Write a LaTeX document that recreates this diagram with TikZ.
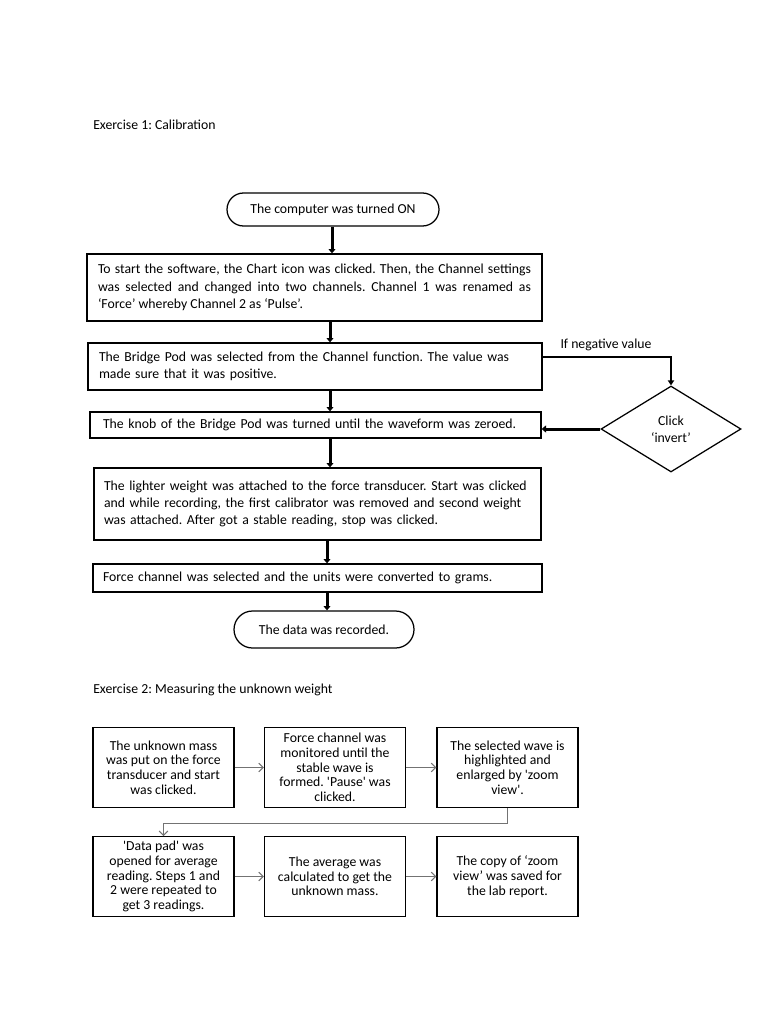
\documentclass[tikz,border=0pt]{standalone}
\usepackage{fontspec}
\setmainfont{Carlito}[Ligatures=TeXOff]
\usetikzlibrary{arrows.meta,shapes.geometric,shapes.misc}
\frenchspacing

\begin{document}
\begin{tikzpicture}[x=0.8pt,y=-0.8pt,
        every node/.style={font=\fontsize{11}{13.8}\selectfont},
        stepbox/.style={draw, line width=1pt, inner xsep=8.8pt, inner ysep=0pt, align=left},
        termbox/.style={draw, line width=1pt, rounded rectangle, inner sep=0pt},
        decbox/.style={draw, line width=1pt, diamond, inner sep=0pt, align=center},
        smallbox/.style={draw, line width=1pt, minimum width=112.8pt, minimum height=63.6pt, inner sep=0pt,
            align=center, font=\fontsize{11}{11.8}\selectfont},
        flow/.style={line width=2.4pt, -{Triangle[width=5.5pt,length=3.5pt]}},
        sideflow/.style={line width=1.6pt, -{Triangle[width=5pt,length=4pt]}},
        link/.style={black!55, line width=0.8pt, -{Straight Barb[length=3.5pt,width=7pt]}}]
    \useasboundingbox (0,0) rectangle (768,1024);

    % exercise 1
    \node[anchor=west, inner sep=0pt] (title1) at (93,125) {Exercise 1: Calibration};

    \node[termbox, minimum width=169.6pt, minimum height=26.4pt] (start) at (333,209.5) {The computer was turned ON};
    \node[stepbox, align=justify, text width=346.4pt, minimum height=53.6pt] (soft) at (314.5,287.5)
        {To start the software, the Chart icon was clicked. Then, the Channel settings\linebreak
         was selected and changed into two channels. Channel 1 was renamed as\linebreak
         ‘Force’ whereby Channel 2 as ‘Pulse’.};
    \node[stepbox, text width=345.6pt, minimum height=37.6pt] (pod) at (315,366.5)
        {The Bridge Pod was selected from the Channel function. The value was\\made sure that it was positive.};
    \node[stepbox, inner xsep=10.4pt, text width=340pt, minimum height=20.8pt] (knob) at (315.5,425)
        {The knob of the Bridge Pod was turned until the waveform was zeroed.};
    \node[stepbox, inner xsep=8pt, text width=341.6pt, minimum height=57.6pt] (weight) at (317.5,504)
        {The lighter weight was attached to the force transducer. Start was clicked\\
         and while recording, the first calibrator was removed and second weight\\
         was attached. After got a stable reading, stop was clicked.};
    \node[stepbox, inner xsep=8pt, text width=343.2pt, minimum height=22.4pt] (units) at (317.5,578)
        {Force channel was selected and the units were converted to grams.};
    \node[termbox, minimum width=144pt, minimum height=29.6pt] (rec) at (324,629.5) {The data was recorded.};

    % negative value branch
    \node[decbox, minimum width=112pt, minimum height=68.8pt] (inv) at (671,429) {Click\\‘invert’};
    \coordinate (neg) at (671,357);
    \node (negtxt) at (606,345) {If negative value};

    \coordinate (c1) at (332,0);
    \coordinate (c2) at (330,0);
    \coordinate (c3) at (327,0);
    \draw[flow] (start.south -| c1) -- (soft.north -| c1);
    \draw[flow] (soft.south -| c2) -- (pod.north -| c2);
    \draw[flow] (pod.south -| c2) -- (knob.north -| c2);
    \draw[flow] (knob.south -| c2) -- (weight.north -| c2);
    \draw[flow] (weight.south -| c3) -- (units.north -| c3);
    \draw[flow] (units.south -| c3) -- (rec.north -| c3);
    \draw[sideflow] (pod.east |- neg) -- (neg) -- (inv.north);
    \draw[flow] (inv.west) -- (inv.west -| knob.east);

    % exercise 2
    \node[anchor=west, inner sep=0pt] (title2) at (93,690) {Exercise 2: Measuring the unknown weight};

    \node[smallbox] (mass) at (163.5,767.5) {The unknown mass\\was put on the force\\transducer and start\\was clicked.};
    \node[smallbox] (mon) at (335,767.5) {Force channel was\\monitored until the\\stable wave is\\formed. 'Pause' was\\clicked.};
    \node[smallbox] (zoom) at (507.5,767.5) {The selected wave is\\highlighted and\\enlarged by 'zoom\\view'.};
    \node[smallbox] (pad) at (163.5,876.5) {'Data pad' was\\opened for average\\reading. Steps 1 and\\2 were repeated to\\get 3 readings.};
    \node[smallbox] (avg) at (335,876.5) {The average was\\calculated to get the\\unknown mass.};
    \node[smallbox] (copy) at (507.5,876.5) {The copy of ‘zoom\\view’ was saved for\\the lab report.};

    \coordinate (turn) at (0,823);
    \draw[link] (mass) -- (mon);
    \draw[link] (mon) -- (zoom);
    \draw[link] (zoom.south) -- (zoom.south |- turn) -- (pad.north |- turn) -- (pad.north);
    \draw[link] (pad) -- (avg);
    \draw[link] (avg) -- (copy);
\end{tikzpicture}
\end{document}
